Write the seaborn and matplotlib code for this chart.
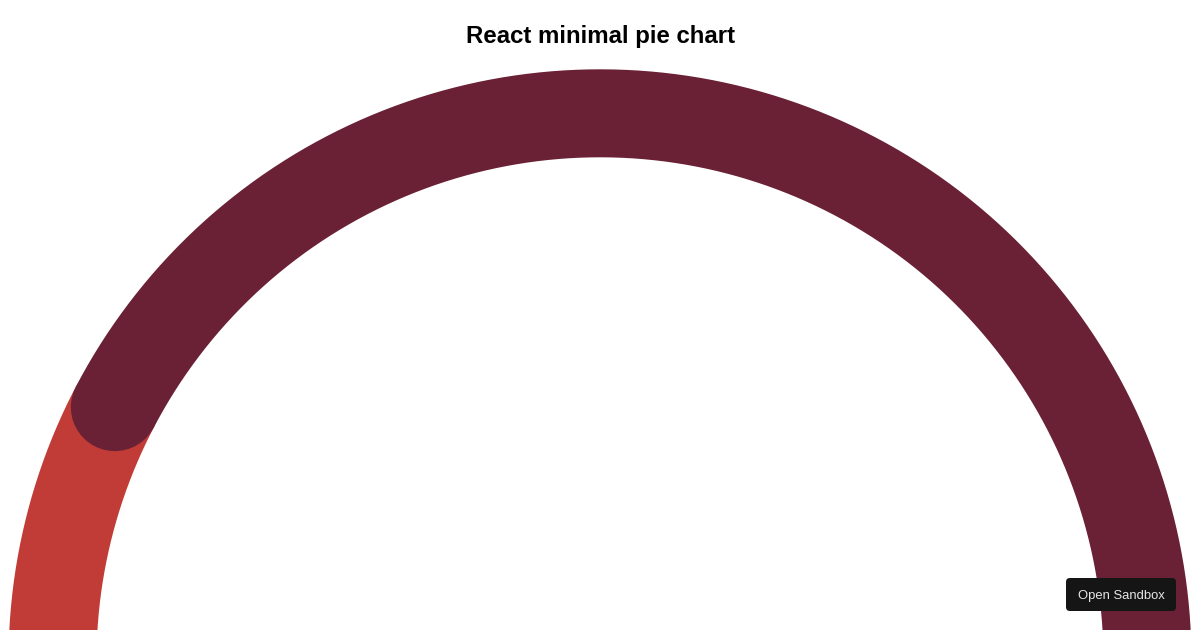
import numpy as np
import pandas as pd
import seaborn as sns
import matplotlib
matplotlib.use("Agg")
import matplotlib.pyplot as plt
from matplotlib.patches import FancyBboxPatch

# ---- data ----
titles = ["One", "Two", "Three"]
values = [10, 15, 20]
colors = ["#E38627", "#C13C37", "#6A2135"]
start_angle = 7.6        # degrees, clockwise from 3 o'clock (SVG convention)
chart_title = "React minimal pie chart"
button_label = "Open Sandbox"

# ---- layout ----
W, H, DPI = 1200, 630, 100
cx, cy = 600.0, 660.8           # pie centre in pixel coordinates
r_mid = 547.5                   # radius of the ring centre line
ring_px = 88.0                  # ring thickness in px

sns.set_theme(style="white")
plt.rcParams["font.family"] = ["Liberation Sans", "DejaVu Sans"]

fig = plt.figure(figsize=(W / DPI, H / DPI), dpi=DPI)
fig.patch.set_facecolor("white")
ax = fig.add_axes([0, 0, 1, 1])

total = sum(values)
cum = np.concatenate([[0], np.cumsum(values)])
lw_pt = ring_px * 72 / DPI
for i, (t, v, c) in enumerate(zip(titles, values, colors)):
    a0 = start_angle + 360 * cum[i] / total
    a1 = start_angle + 360 * cum[i + 1] / total
    ang = np.radians(np.linspace(a0, a1, 400))
    seg = pd.DataFrame({"x": cx + r_mid * np.cos(ang), "y": cy + r_mid * np.sin(ang)})
    sns.lineplot(data=seg, x="x", y="y", sort=False, estimator=None, color=c,
                 linewidth=lw_pt, solid_capstyle="round", ax=ax, legend=False)
ax.set_xlim(0, W)
ax.set_ylim(H, 0)
ax.axis("off")

ax.text(600.5, 42.5, chart_title, ha="center", va="baseline",
        fontsize=24 * 72 / DPI, fontweight="bold", color="#000000")

box = FancyBboxPatch((1066, 578), 110, 33, boxstyle="round,pad=0,rounding_size=4",
                     fc="#151515", ec="none", zorder=5)
ax.add_patch(box)
ax.text(1121, 599.3, button_label, ha="center", va="baseline", color="#e6e6e6",
        fontsize=13 * 72 / DPI, zorder=6)

fig.savefig("out.png", dpi=DPI, facecolor="white")
